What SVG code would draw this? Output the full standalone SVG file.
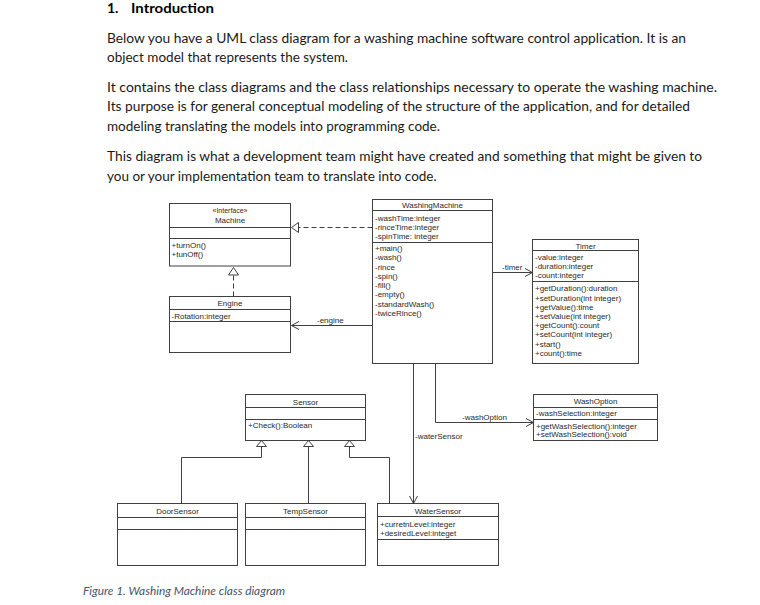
<svg xmlns="http://www.w3.org/2000/svg" width="760" height="605" viewBox="0 0 760 605">
<style>
.bg{fill:#ffffff}
.box{fill:#ffffff;stroke:#404040;stroke-width:1}
.sep{stroke:#404040;stroke-width:1;fill:none}
.t{font-family:"Liberation Sans",Arial,sans-serif;font-size:8px;fill:#2a2a2a}
.st{font-size:7px}
.c{text-anchor:middle}
.conn{stroke:#404040;stroke-width:1;fill:none}
.dash{stroke-dasharray:5 3}
.tri{fill:#ffffff;stroke:#404040;stroke-width:1}
.body{font-family:Lato,"Liberation Sans",sans-serif;font-size:13.5px;fill:#1a1a1a}
.h{font-family:Lato,"Liberation Sans",sans-serif;font-size:14px;font-weight:bold;fill:#000}
.cap{font-family:Lato,"Liberation Sans",sans-serif;font-size:11px;font-style:italic;fill:#44546a}
</style>
<rect class="bg" x="0" y="0" width="760" height="605"/>

<g id="intro">
<text class="h" x="107" y="13">1.</text>
<text class="h" x="131" y="13" textLength="83" lengthAdjust="spacingAndGlyphs">Introduction</text>
<text class="body" x="107" y="43" textLength="579" lengthAdjust="spacingAndGlyphs">Below you have a UML class diagram for a washing machine software control application.  It is an</text>
<text class="body" x="107" y="62">object model that represents the system.</text>
<text class="body" x="107" y="92" textLength="610" lengthAdjust="spacingAndGlyphs">It contains the class diagrams and the class relationships necessary to operate the washing machine.</text>
<text class="body" x="107" y="111" textLength="583" lengthAdjust="spacingAndGlyphs">Its purpose is for general conceptual modeling of the structure of the application, and for detailed</text>
<text class="body" x="107" y="131">modeling translating the models into programming code.</text>
<text class="body" x="107" y="161" textLength="595" lengthAdjust="spacingAndGlyphs">This diagram is what a development team might have created and something that might be given to</text>
<text class="body" x="107" y="181">you or your implementation team to translate into code.</text>
</g>

<g id="connectors">
<line class="conn dash" x1="372.5" y1="227.5" x2="298.5" y2="227.5"/>
<polygon class="tri" points="291.5,227.5 298.5,222.5 298.5,232.5"/>
<line class="conn dash" x1="233.5" y1="296.5" x2="233.5" y2="275"/>
<polygon class="tri" points="233.5,267.5 228.5,275 238.5,275"/>
<line class="conn" x1="372.5" y1="325.5" x2="291.5" y2="325.5"/>
<polyline class="conn" points="299,321.5 291.5,325.5 299,329.5"/>
<text class="t" x="317" y="323">-engine</text>
<line class="conn" x1="492.5" y1="272.5" x2="532.5" y2="272.5"/>
<polyline class="conn" points="525,268.5 532.5,272.5 525,276.5"/>
<text class="t" x="502" y="270">-timer</text>
<polyline class="conn" points="435.5,363.5 435.5,422.5 533.5,422.5"/>
<polyline class="conn" points="526,418.5 533.5,422.5 526,426.5"/>
<text class="t" x="462" y="420">-washOption</text>
<line class="conn" x1="413.5" y1="363.5" x2="413.5" y2="503.5"/>
<polyline class="conn" points="409.5,496 413.5,503.5 417.5,496"/>
<text class="t" x="415" y="439">-waterSensor</text>
<polyline class="conn" points="261.5,446.5 261.5,457.5 181.5,457.5 181.5,503.5"/>
<polygon class="tri" points="261.5,440.5 256.5,446.5 266.5,446.5"/>
<line class="conn" x1="308.5" y1="446.5" x2="308.5" y2="503.5"/>
<polygon class="tri" points="308.5,440.5 303.5,446.5 313.5,446.5"/>
<polyline class="conn" points="349.5,446.5 349.5,457.5 389.5,457.5 389.5,503.5"/>
<polygon class="tri" points="349.5,440.5 344.5,446.5 354.5,446.5"/>
</g>

<g id="Machine">
<rect class="box" x="169.5" y="203.5" width="121" height="62.5"/>
<line class="sep" x1="169.5" y1="227.5" x2="290.5" y2="227.5"/>
<line class="sep" x1="169.5" y1="238.5" x2="290.5" y2="238.5"/>
<text class="t st c" x="230" y="212.5">«Interface»</text>
<text class="t c" x="230" y="223">Machine</text>
<text class="t" x="171.5" y="248">+turnOn()</text>
<text class="t" x="171.5" y="257">+tunOff()</text>
</g>

<g id="Engine">
<rect class="box" x="169.5" y="296.5" width="121" height="56"/>
<line class="sep" x1="169.5" y1="309.5" x2="290.5" y2="309.5"/>
<line class="sep" x1="169.5" y1="321.5" x2="290.5" y2="321.5"/>
<text class="t c" x="230" y="306">Engine</text>
<text class="t" x="171.5" y="318.5">-Rotation:integer</text>
</g>

<g id="WashingMachine">
<rect class="box" x="372.5" y="199.5" width="120" height="164"/>
<line class="sep" x1="372.5" y1="210.5" x2="492.5" y2="210.5"/>
<line class="sep" x1="372.5" y1="242.5" x2="492.5" y2="242.5"/>
<text class="t c" x="432.5" y="207.5">WashingMachine</text>
<text class="t" x="375" y="220.5">-washTime:integer</text>
<text class="t" x="375" y="230">-rinceTime:integer</text>
<text class="t" x="375" y="239">-spinTime: integer</text>
<text class="t" x="375" y="251">+main()</text>
<text class="t" x="375" y="260.25">-wash()</text>
<text class="t" x="375" y="269.5">-rince</text>
<text class="t" x="375" y="278.75">-spin()</text>
<text class="t" x="375" y="288">-fill()</text>
<text class="t" x="375" y="297.25">-empty()</text>
<text class="t" x="375" y="306.5">-standardWash()</text>
<text class="t" x="375" y="315.75">-twiceRince()</text>
</g>

<g id="Timer">
<rect class="box" x="532.5" y="239.5" width="106" height="124"/>
<line class="sep" x1="532.5" y1="250.5" x2="638.5" y2="250.5"/>
<line class="sep" x1="532.5" y1="281.5" x2="638.5" y2="281.5"/>
<text class="t c" x="585.5" y="248.5">Timer</text>
<text class="t" x="535" y="259.7">-value:integer</text>
<text class="t" x="535" y="268.7">-duration:integer</text>
<text class="t" x="535" y="278">-count:integer</text>
<text class="t" x="535" y="291.3">+getDuration():duration</text>
<text class="t" x="535" y="300.5">+setDuration(int integer)</text>
<text class="t" x="535" y="309.7">+getValue():time</text>
<text class="t" x="535" y="318.9">+setValue(int integer)</text>
<text class="t" x="535" y="328.1">+getCount():count</text>
<text class="t" x="535" y="337.3">+setCount(int integer)</text>
<text class="t" x="535" y="346.5">+start()</text>
<text class="t" x="535" y="355.7">+count():time</text>
</g>

<g id="WashOption">
<rect class="box" x="533.5" y="394.5" width="124" height="46"/>
<line class="sep" x1="533.5" y1="407.5" x2="657.5" y2="407.5"/>
<line class="sep" x1="533.5" y1="419.5" x2="657.5" y2="419.5"/>
<text class="t c" x="595.5" y="404">WashOption</text>
<text class="t" x="536" y="416.3">-washSelection:integer</text>
<text class="t" x="536" y="428.7">+getWashSelection():integer</text>
<text class="t" x="536" y="437.3">+setWashSelection():void</text>
</g>

<g id="Sensor">
<rect class="box" x="245.5" y="394.5" width="120" height="46"/>
<line class="sep" x1="245.5" y1="407.5" x2="365.5" y2="407.5"/>
<line class="sep" x1="245.5" y1="419.5" x2="365.5" y2="419.5"/>
<text class="t c" x="305.5" y="404.5">Sensor</text>
<text class="t" x="248" y="428">+Check():Boolean</text>
</g>

<g id="DoorSensor">
<rect class="box" x="117.5" y="503.5" width="120" height="62"/>
<line class="sep" x1="117.5" y1="517.5" x2="237.5" y2="517.5"/>
<line class="sep" x1="117.5" y1="529.5" x2="237.5" y2="529.5"/>
<text class="t c" x="177.5" y="513.5">DoorSensor</text>
</g>

<g id="TempSensor">
<rect class="box" x="245.5" y="503.5" width="120" height="62"/>
<line class="sep" x1="245.5" y1="517.5" x2="365.5" y2="517.5"/>
<line class="sep" x1="245.5" y1="529.5" x2="365.5" y2="529.5"/>
<text class="t c" x="305.5" y="513.5">TempSensor</text>
</g>

<g id="WaterSensor">
<rect class="box" x="377.5" y="503.5" width="121" height="62"/>
<line class="sep" x1="377.5" y1="516.5" x2="498.5" y2="516.5"/>
<line class="sep" x1="377.5" y1="539.5" x2="498.5" y2="539.5"/>
<text class="t c" x="438" y="513.5">WaterSensor</text>
<text class="t" x="380" y="526.5">+curretnLevel:integer</text>
<text class="t" x="380" y="535.5">+desiredLevel:integet</text>
</g>

<g id="caption">
<text class="cap" x="83" y="595" textLength="202" lengthAdjust="spacingAndGlyphs">Figure 1. Washing Machine class diagram</text>
</g>
</svg>
